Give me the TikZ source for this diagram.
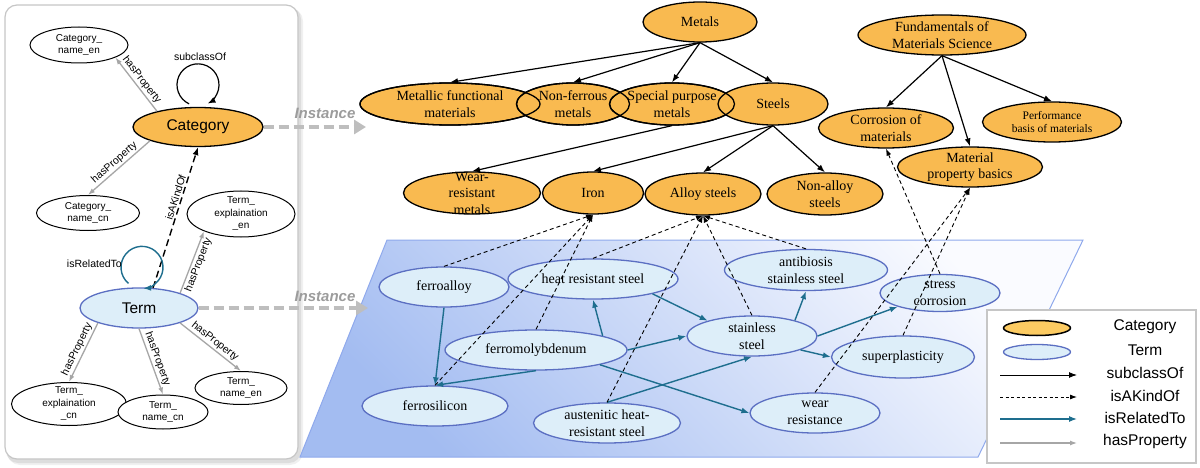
\documentclass[tikz,border=0pt]{standalone}
\usepackage{fontspec}
\setmainfont{Liberation Serif}
\setsansfont{Liberation Sans}
\usetikzlibrary{shapes.geometric,arrows.meta,calc}
\definecolor{catfill}{HTML}{F9BA50}
\definecolor{catlight}{HTML}{FCCB62}
\definecolor{termfill}{HTML}{DDEEF9}
\definecolor{termdraw}{HTML}{5B6FC2}
\definecolor{relcol}{HTML}{1E6E8E}
\definecolor{hascol}{HTML}{A6A6A6}
\definecolor{instcol}{HTML}{BEBEBE}
\definecolor{insttxt}{HTML}{9C9C9C}
\definecolor{planeA}{HTML}{A3BCF1}
\definecolor{planeB}{HTML}{FAFBFF}
\definecolor{planeedge}{HTML}{8FA9EC}
\definecolor{paneledge}{HTML}{C6C6C6}
\newcommand{\ellnode}[7]{%
  \node[#1, minimum width=#4, minimum height=#5] (#2) at (#3) {};
  \node[#6] (#2-t) at (#2.center) {#7};}
\begin{document}
\begin{tikzpicture}[x=1pt,y=-1pt,
  catn/.style={ellipse, draw=black, line width=1.3pt, fill=catfill, inner sep=0pt},
  termn/.style={ellipse, draw=termdraw, line width=1.3pt, fill=termfill, inner sep=0pt},
  propn/.style={ellipse, draw=black, line width=1pt, fill=white, inner sep=0pt},
  sertext/.style={font=\fontsize{14}{16.5}\selectfont, align=center, inner sep=0pt},
  smalltext/.style={font=\sffamily\fontsize{10}{12.5}\selectfont, align=center, inner sep=0pt},
  bigtext/.style={font=\sffamily\fontsize{15.5}{18}\selectfont, inner sep=0pt},
  lbl/.style={font=\sffamily\fontsize{10.5}{12}\selectfont, inner sep=1.5pt},
  legtext/.style={font=\sffamily\fontsize{15.5}{18}\selectfont, inner sep=0pt},
  insttext/.style={font=\sffamily\bfseries\itshape\fontsize{15}{18}\selectfont, text=insttxt, inner sep=0pt},
  subclass/.style={draw=black, line width=1.2pt, -{Latex[length=8pt,width=6pt]}},
  related/.style={draw=relcol, line width=1.4pt, -{Latex[length=8pt,width=6pt]}},
  hasp/.style={draw=hascol, line width=1.3pt, -{Latex[length=7pt,width=5pt]}},
  kind/.style={draw=black, line width=0.9pt, dash pattern=on 4pt off 3pt, -{Latex[length=7pt,width=5pt]}},
  leftkind/.style={draw=black, line width=1.4pt, dash pattern=on 7pt off 4pt, -{Latex[length=8pt,width=6pt]}},
  inst/.style={draw=instcol, line width=4pt, dash pattern=on 10pt off 5pt, -{Triangle[length=12pt,width=14pt]}},
]
\useasboundingbox (0,0) rectangle (1200,468);

% ---------- left panel ----------
\fill[black, opacity=0.06, rounded corners=13] (7,8) rectangle (303,465);
\fill[black, opacity=0.08, rounded corners=12] (6,7) rectangle (301,463);
\draw[paneledge, line width=1.2pt, fill=white, rounded corners=12] (5,5) rectangle (298,459);

% ---------- plane ----------
\coordinate (p1) at (387,240);
\coordinate (p2) at (1083,240);
\coordinate (p3) at (978,457);
\coordinate (p4) at (300,457);
\shade[shading=axis, bottom color=planeA, top color=planeB, shading angle=-45] (p1) -- (p2) -- (p3) -- (p4) -- cycle;
\draw[planeedge, line width=1pt] (p1) -- (p2) -- (p3) -- (p4) -- cycle;

% ---------- left panel nodes ----------
\ellnode{propn}{cen}{79,45}{98}{36}{smalltext}{Category\_\\name\_en}
\ellnode{catn}{cat}{198,127}{130}{39}{bigtext}{Category}
\ellnode{propn}{ccn}{88,213}{103}{35}{smalltext}{Category\_\\name\_cn}
\ellnode{propn}{tee}{241,214}{108}{46}{smalltext}{Term\_\\explaination\\\_en}
\ellnode{termn}{term}{139,308}{118}{40}{bigtext}{Term}
\ellnode{propn}{tec}{69,404}{115}{43}{smalltext}{Term\_\\explaination\\\_cn}
\ellnode{propn}{tnc}{163,412}{90}{34}{smalltext}{Term\_\\name\_cn}
\ellnode{propn}{tne}{241,388}{92}{33}{smalltext}{Term\_\\name\_en}

\draw[hasp] (cat.159) -- node[lbl, sloped, above] {hasProperty} (cen.-19);
\draw[hasp] (cat.196) -- node[lbl, sloped, above] {hasProperty} (ccn.north);
\draw[hasp] (term.20) -- node[lbl, sloped, below] {hasProperty} (tee.205);
\draw[hasp] (term.200) -- node[lbl, sloped, above] {hasProperty} (tec.north);
\draw[hasp] (term.south) -- node[lbl, sloped, above] {hasProperty} (tnc.north);
\draw[hasp] (term.-20) -- node[lbl, sloped, above] {hasProperty} (tne.north);
\draw[leftkind] (term.55) -- node[lbl, sloped, above, pos=0.63] {isAKindOf} (cat.south);

\coordinate (subc) at ($(cat.north)+(0,-22)$);
\draw[subclass] ([shift={(115:21)}]subc) arc[start angle=115, end angle=423, radius=21];
\node[lbl] (subl) at ($(subc)+(2,-28)$) {subclassOf};
\coordinate (relc) at ($(term.north)+(3,-20)$);
\draw[related] ([shift={(130:21)}]relc) arc[start angle=130, end angle=447, radius=21];
\node[lbl, anchor=east, inner sep=0pt] (rell) at ($(relc)+(-20,-4)$) {isRelatedTo};

% ---------- category nodes ----------
\ellnode{catn}{metals}{700,22}{114}{40}{sertext}{Metals}
\ellnode{catn}{mfm}{450,104}{180}{42}{sertext}{Metallic functional\\materials}
\ellnode{catn}{nfm}{573,104}{113}{42}{sertext}{Non-ferrous\\metals}
\ellnode{catn}{spm}{672,104}{125}{42}{sertext}{Special purpose\\metals}
\ellnode{catn}{steels}{773,104}{110}{42}{sertext}{Steels}
\draw[line width=1.3pt] (mfm.center) ellipse[x radius=90, y radius=21];
\draw[line width=1.3pt] (nfm.center) ellipse[x radius=56.5, y radius=21];
\draw[line width=1.3pt] (spm.center) ellipse[x radius=62.5, y radius=21];
\ellnode{catn}{wear}{472,193}{137}{42}{sertext}{Wear-\\resistant\\metals}
\ellnode{catn}{iron}{593,193}{101}{42}{sertext}{Iron}
\ellnode{catn}{alloy}{703,194}{116}{42}{sertext}{Alloy steels}
\ellnode{catn}{nonalloy}{825,194}{116}{42}{sertext}{Non-alloy\\steels}
\ellnode{catn}{fund}{942,35}{168}{40}{sertext}{Fundamentals of\\Materials Science}
\ellnode{catn}{corr}{886,128}{135}{40}{sertext}{Corrosion of\\materials}
\node[catn, minimum width=139, minimum height=40] (perf) at (1052,122) {};
\node[sertext, font=\fontsize{11.5}{13.5}\selectfont] (perf-t) at (perf.center) {Performance\\basis of materials};
\ellnode{catn}{mpb}{970,167}{145}{40}{sertext}{Material\\property basics}

% ---------- term nodes ----------
\ellnode{termn}{falloy}{444,287}{130}{40}{sertext}{ferroalloy}
\ellnode{termn}{hrs}{593,279}{170}{40}{sertext}{heat resistant steel}
\ellnode{termn}{fmol}{536,350}{182}{40}{sertext}{ferromolybdenum}
\ellnode{termn}{fsi}{435,406}{146}{40}{sertext}{ferrosilicon}
\ellnode{termn}{aus}{607,423}{147}{40}{sertext}{austenitic heat-\\resistant steel}
\ellnode{termn}{anti}{806,270}{163}{41}{sertext}{antibiosis\\stainless steel}
\ellnode{termn}{ss}{752,336}{130}{40}{sertext}{stainless\\steel}
\ellnode{termn}{stc}{940,293}{120}{37}{sertext}{stress\\corrosion}
\ellnode{termn}{sup}{903,357}{143}{42}{sertext}{superplasticity}
\ellnode{termn}{wres}{815,413}{130}{40}{sertext}{wear\\resistance}

% ---------- subclassOf ----------
\foreach \t in {mfm,nfm,spm,steels} \draw[subclass] (metals.south) -- (\t.north);
\draw[subclass] (spm.south) -- (wear.north);
\foreach \t in {iron,alloy,nonalloy} \draw[subclass] (steels.south) -- (\t.north);
\foreach \t in {corr,mpb,perf} \draw[subclass] (fund.south) -- (\t.north);

% ---------- isRelatedTo ----------
\draw[related] (falloy.south) -- (fsi.north);
\draw[related] (fmol.south) -- (fsi.north);
\draw[related] (fmol.12) -- (hrs.south);
\draw[related] (hrs.-14) -- (ss.161);
\draw[related] (fmol.east) -- (ss.west);
\draw[related] (fmol.-13) -- (wres.west);
\draw[related] (aus.north) -- (ss.south);
\draw[related] (ss.20) -- (anti.south);
\draw[related] (ss.east) -- (stc.198);
\draw[related] (ss.-16) -- (sup.west);

% ---------- isAKindOf ----------
\foreach \s in {falloy,fsi,fmol} \draw[kind] (\s.north) -- (iron.south);
\foreach \s in {hrs,aus,ss,anti} \draw[kind] (\s.north) -- (alloy.south);
\draw[kind] (stc.north) -- (corr.south);
\draw[kind] (sup.north) -- (mpb.south);
\draw[kind] (wres.north) -- (mpb.south);

% ---------- instance arrows ----------
\coordinate (inst1) at (366,127);
\draw[inst] (cat.east) -- (inst1);
\node[insttext] (inst1l) at (325,113) {Instance};
\coordinate (inst2) at (368,308);
\draw[inst] (term.east) -- (inst2);
\node[insttext] (inst2l) at (325,296) {Instance};

% ---------- legend ----------
\node[draw=paneledge, line width=1.2pt, fill=white, minimum width=209, minimum height=153, inner sep=0pt] (legend) at (1091.5,386.5) {};
\node[catn, fill=catlight, line width=1.5pt, minimum width=67, minimum height=15] (lcat) at (1037,328) {};
\node[termn, minimum width=67, minimum height=15] (lterm) at (1037,352) {};
\coordinate (ls1) at (1000,375); \coordinate (le1) at (1077,375);
\coordinate (ls2) at (1000,397); \coordinate (le2) at (1077,397);
\coordinate (ls3) at (1000,419); \coordinate (le3) at (1077,419);
\coordinate (ls4) at (1000,443); \coordinate (le4) at (1077,443);
\draw[subclass, line width=1pt] (ls1) -- (le1);
\draw[kind, dash pattern=on 3pt off 2.5pt] (ls2) -- (le2);
\draw[related, line width=1.2pt] (ls3) -- (le3);
\draw[hasp, line width=1.2pt] (ls4) -- (le4);
\node[legtext] (lcatl) at (1145,327) {Category};
\node[legtext] (ltermt) at (1145,350) {Term};
\node[legtext] (l1) at (1145,373) {subclassOf};
\node[legtext] (l2) at (1145,396) {isAKindOf};
\node[legtext] (l3) at (1145,418) {isRelatedTo};
\node[legtext] (l4) at (1145,441) {hasProperty};
\end{tikzpicture}
\end{document}
